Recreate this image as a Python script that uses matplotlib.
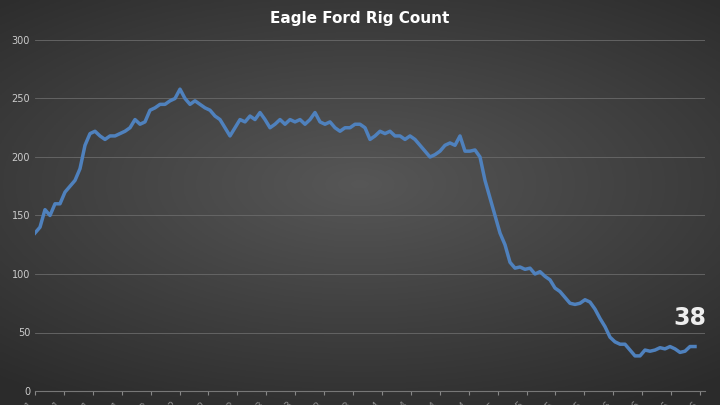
import numpy as np
import matplotlib
matplotlib.use("Agg")
import matplotlib.pyplot as plt

values = [135,140,155,150,160,160,170,175,180,190,210,220,222,218,215,218,218,220,222,225,232,228,230,240,242,245,245,248,250,258,
250,245,248,245,242,240,235,232,225,218,225,232,230,235,232,238,232,225,228,232,228,232,230,232,228,232,238,230,228,230,
225,222,225,225,228,228,225,215,218,222,220,222,218,218,215,218,215,210,205,200,202,205,210,212,210,218,205,205,206,200,
180,165,150,135,125,110,105,106,104,105,100,102,98,95,88,85,80,75,74,75,78,76,70,62,55,46,42,40,40,35,
30,30,35,34,35,37,36,38,36,33,34,38,38]
years = ["11","12","13","14","15","16"]
tick_labels = [f"{m}-{y}" for y in years for m in ["Mar","Jun","Sep","Dec"]]
title = "Eagle Ford Rig Count"
last_label = "38"

fig = plt.figure(figsize=(7.2,4.05), dpi=100)
bg = fig.add_axes([0,0,1,1])
yy, xx = np.mgrid[-1:1:200j, -1:1:360j]
r = np.sqrt((xx*0.9)**2 + (yy*1.1+0.1)**2)
g = 0.34 - 0.17*np.clip(r,0,1.4)/1.4
bg.imshow(np.dstack([g,g,g]), aspect='auto', extent=[0,1,0,1])
bg.axis('off')

ax = fig.add_axes([35/720, 14/405, 670/720, 351/405])
ax.set_facecolor('none')
n = len(values)
x = np.arange(n)
ax.plot(x, values, color='#4f81bd', lw=2.5)
ax.set_ylim(0,300)
ax.set_xlim(0, n-1+2)
ax.set_yticks(range(0,301,50))
ax.grid(axis='y', color='#6a6a6a', lw=0.6)
pos = np.linspace(0, n-1+1, len(tick_labels))
ax.set_xticks(pos)
ax.set_xticklabels(tick_labels, rotation=45, ha='right', color='#bbbbbb', fontsize=7)
ax.tick_params(axis='y', colors='#cccccc', labelsize=7, length=0)
ax.tick_params(axis='x', colors='#888888', length=3)
for s in ['top','right','left']:
    ax.spines[s].set_visible(False)
ax.spines['bottom'].set_color('#777777')
ax.annotate(last_label, (x[-1], values[-1]), xytext=(-4, 12), textcoords='offset points',
            ha='center', va='bottom', color='#eeeeee', fontsize=17, fontweight='bold')
fig.text(0.5, 0.955, title, ha='center', va='center', color='white', fontsize=11, fontweight='bold')
fig.savefig('out.png', dpi=100)
